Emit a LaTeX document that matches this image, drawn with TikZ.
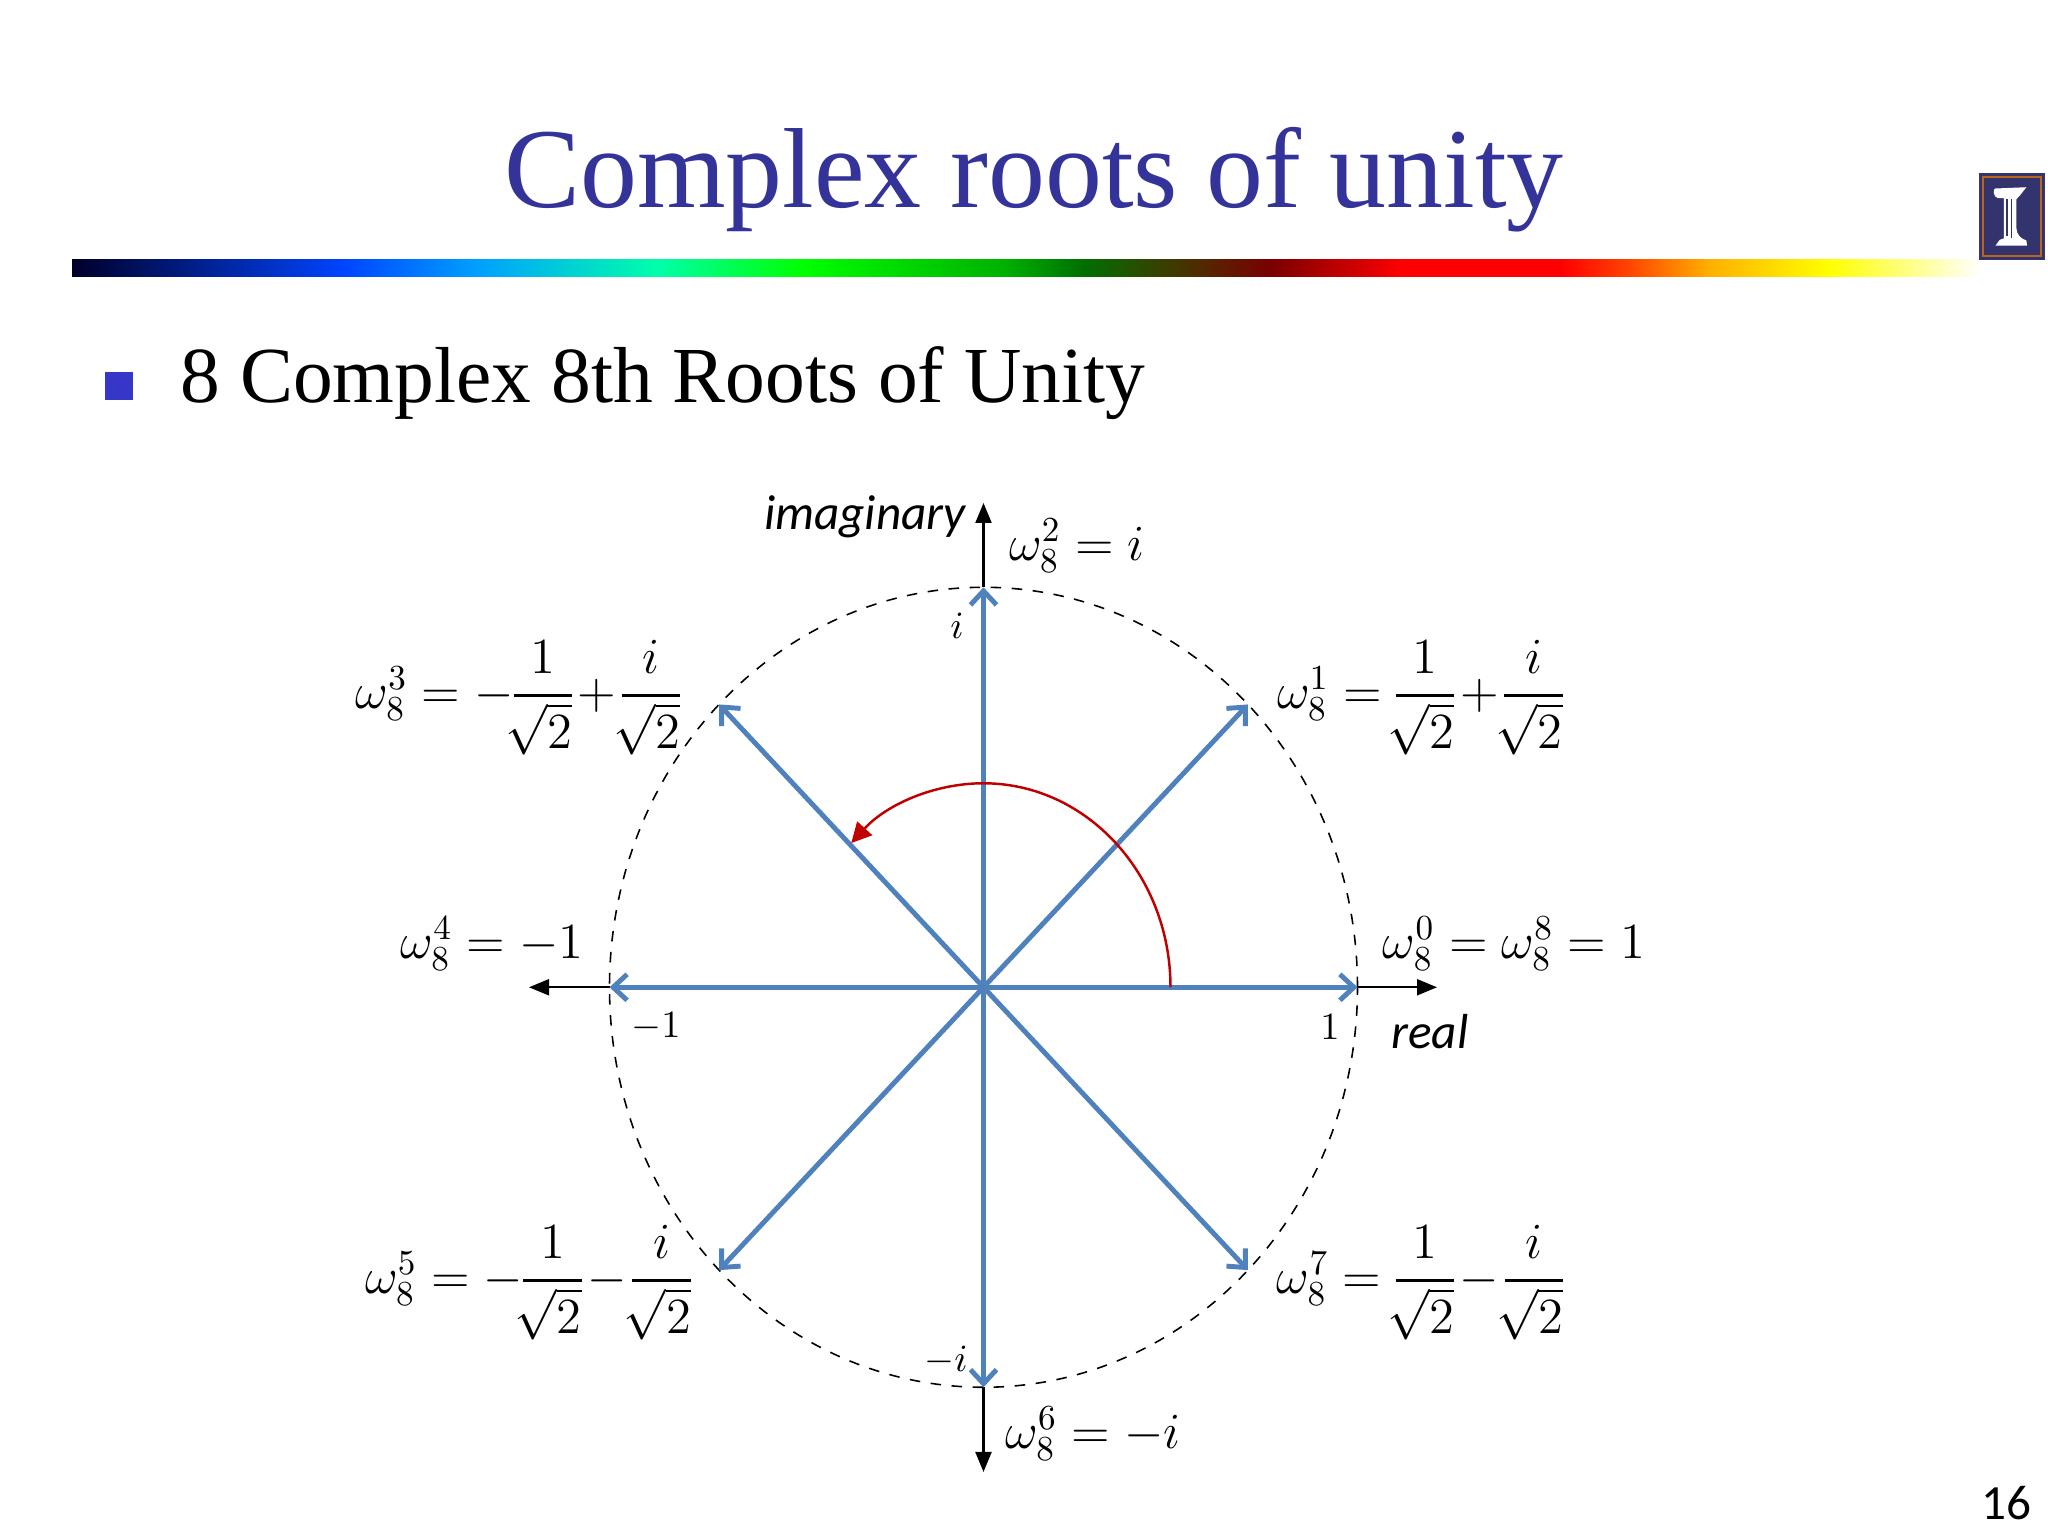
\documentclass[tikz,border=0pt]{standalone}
\usepackage[no-math]{fontspec}
\usepackage{amsmath}
\usepackage{tikz}
\usetikzlibrary{arrows.meta, positioning}
\setmainfont{Liberation Serif}
\newfontfamily\axisfont{Carlito}
\newcommand{\rootfont}{\fontsize{14}{17}\selectfont\medmuskip=2mu\relax\nulldelimiterspace=0pt\relax}
\newcommand{\rootfrac}[1]{\dfrac{#1}{\!\sqrt{2}}}
\definecolor{titleblue}{HTML}{333399}
\definecolor{bulletblue}{HTML}{3636C8}
\definecolor{rootblue}{HTML}{4F81BD}
\definecolor{arcred}{HTML}{C00000}
\definecolor{logonavy}{HTML}{33336E}
\definecolor{logoorange}{HTML}{B8651B}
\definecolor{barA}{HTML}{00002A}
\definecolor{barB}{HTML}{0044FF}
\definecolor{barC}{HTML}{00A0FF}
\definecolor{barD}{HTML}{00FFAA}
\definecolor{barE}{HTML}{00FF00}
\definecolor{barF}{HTML}{00B000}
\definecolor{barG}{HTML}{007000}
\definecolor{barH}{HTML}{4A3000}
\definecolor{barI}{HTML}{7A0000}
\definecolor{barJ}{HTML}{FF0000}
\definecolor{barK}{HTML}{FF4000}
\definecolor{barL}{HTML}{FFB000}
\definecolor{barM}{HTML}{FFFF00}
\pgfdeclarehorizontalshading{rainbowbar}{100bp}{
	color(0bp)=(barA);
	color(25bp)=(barA);
	color(32.1bp)=(barB);
	color(35.6bp)=(barC);
	color(40.3bp)=(barD);
	color(44.1bp)=(barE);
	color(49.4bp)=(barF);
	color(51.4bp)=(barG);
	color(54.2bp)=(barH);
	color(56.3bp)=(barI);
	color(59.8bp)=(barJ);
	color(63.9bp)=(barJ);
	color(65.6bp)=(barK);
	color(67.8bp)=(barL);
	color(70.9bp)=(barM);
	color(74.9bp)=(white);
	color(100bp)=(white)}
\tikzset{
	rootarrow/.style={draw=rootblue, line width=1.4pt, -{Straight Barb[length=1.4mm, width=2.6mm]}},
	axisarrow/.style={draw=black, line width=0.6pt, -{Triangle[length=2mm, width=1.6mm]}},
	rootlabel/.style={inner sep=0pt, font=\rootfont},
	ticklabel/.style={inner sep=0pt, font=\fontsize{11}{13}\selectfont},
	axislabel/.style={inner sep=0pt, font=\axisfont\itshape\fontsize{14}{17}\selectfont}
}
\begin{document}
\begin{tikzpicture}
	\useasboundingbox (0,0) rectangle (20.48,15.36);
	% Slide header:
	\node[text=titleblue, font=\fontsize{32.4}{39}\selectfont] (title) at (10.34, 13.56){Complex roots of unity};
	\shade[shading=rainbowbar] (0.72, 12.59) rectangle (19.85, 12.76);
	\fill[bulletblue] (1.05, 11.36) rectangle (1.33, 11.64);
	\node[anchor=base west, inner sep=0pt, font=\fontsize{22.6}{27}\selectfont] (heading) at (1.80, 11.33){8 Complex 8th Roots of Unity};
	\node[font=\axisfont\fontsize{14}{17}\selectfont] (pagenum) at (20.06, 0.33){16};
	% Logo:
	\fill[logonavy] (19.79, 12.76) rectangle (20.45, 13.63);
	\draw[logoorange, line width=0.8pt] (19.83, 12.80) rectangle (20.41, 13.59);
	\begin{scope}[shift={(19,13.96)}, x=0.003333cm, y=-0.003333cm]
		\fill[white] (285,146) -- (380,142) -- (362,165) -- (350,178) -- (350,265) .. controls (350,285) and (365,298) .. (380,302) -- (382,318) -- (287,318) -- (300,300) -- (312,296) -- (312,175) -- (295,175) .. controls (280,172) and (280,150) .. (285,146);
		\fill[logonavy] (320,178) rectangle (326,288);
		\fill[logonavy] (334,178) rectangle (338,295);
	\end{scope}
	% Points on the unit circle:
	\coordinate (O) at (9.835, 5.487);
	\foreach \a in {0,45,...,315}
		\coordinate (P\a) at ([shift={(\a:3.74 and 4)}]O);
	\coordinate (Ximag) at (9.835, 10.33);
	\coordinate (Ximagm) at (9.835, 0.64);
	\coordinate (Xreal) at (14.37, 5.487);
	\coordinate (Xrealm) at (5.29, 5.487);
	\coordinate (Rarc) at (11.705, 5.487);
	\draw[dashed, line width=0.45pt] (O) ellipse [x radius=3.74, y radius=4];
	\draw[axisarrow] (P90) -- (Ximag);
	\draw[axisarrow] (P270) -- (Ximagm);
	\draw[axisarrow] (P0) -- (Xreal);
	\draw[axisarrow] (P180) -- (Xrealm);
	\foreach \a in {0,45,...,315}
		\draw[rootarrow] (O) -- (P\a);
	\draw[arcred, line width=0.7pt, -{Triangle[length=2mm, width=2mm]}] (Rarc) arc [start angle=0, end angle=135, x radius=1.87, y radius=2.04];
	% Labels:
	\node[axislabel] (imag) at (8.65, 10.19){imaginary};
	\node[axislabel] (real) at (14.30, 5.04){real};
	\node[ticklabel] (tickone) at (13.30, 5.09){$1$};
	\node[ticklabel] (tickmone) at (6.56, 5.09){$-1$};
	\node[ticklabel] (ticki) at (9.57, 9.10){$i$};
	\node[ticklabel] (tickmi) at (9.46, 1.76){$-i$};
	\node[rootlabel] (w0) at (15.14, 5.92){$\omega_8^0=\omega_8^8=1$};
	\node[rootlabel] (w1) at (14.20, 8.38){$\omega_8^1=\rootfrac{1}+\rootfrac{i}$};
	\node[rootlabel] (w2) at (10.77, 9.90){$\omega_8^2=i$};
	\node[rootlabel] (w3) at (5.18, 8.38){$\omega_8^3=-\rootfrac{1}+\rootfrac{i}$};
	\node[rootlabel] (w4) at (4.92, 5.92){$\omega_8^4=-1$};
	\node[rootlabel] (w5) at (5.28, 2.53){$\omega_8^5=-\rootfrac{1}-\rootfrac{i}$};
	\node[rootlabel] (w6) at (10.93, 1.02){$\omega_8^6=-i$};
	\node[rootlabel] (w7) at (14.20, 2.53){$\omega_8^7=\rootfrac{1}-\rootfrac{i}$};
\end{tikzpicture}
\end{document}
